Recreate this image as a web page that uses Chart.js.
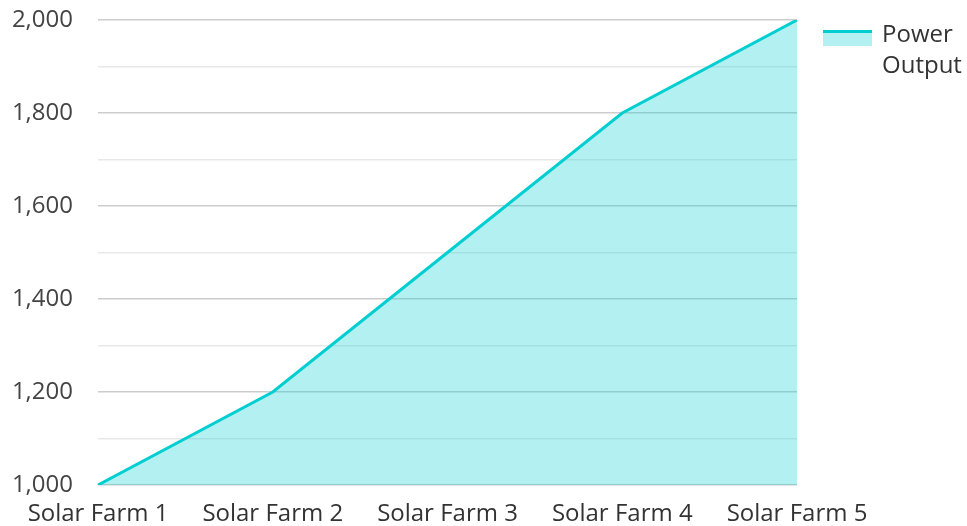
<!DOCTYPE html>
<html>
<head>
<meta charset="utf-8">
<script src="https://cdn.jsdelivr.net/npm/chart.js@4.4.0/dist/chart.umd.min.js"></script>
<style>
    html, body { margin: 0; padding: 0; background: #fff; }
    .chart-container { position: relative; width: 967px; height: 526px; }
</style>
</head>
<body>
<div class="chart-container">
    <canvas id="powerChart"></canvas>
</div>
<script>
const farms = ['Solar Farm 1', 'Solar Farm 2', 'Solar Farm 3', 'Solar Farm 4', 'Solar Farm 5'];
const powerOutput = [1000, 1200, 1500, 1800, 2000];
const yMin = 1000;
const yMax = 2000;
const yStep = 100;
const seriesName = 'Power Output';

document.addEventListener('DOMContentLoaded', (event) => {
    const ctx = document.getElementById('powerChart').getContext('2d');
    const lineColor = '#00CED1';
    const fillColor = 'rgba(0, 206, 209, 0.3)';

    const powerChart = new Chart(ctx, {
        type: 'line',
        data: {
            labels: farms,
            datasets: [{
                label: seriesName,
                data: powerOutput,
                borderColor: lineColor,
                backgroundColor: fillColor,
                borderWidth: 3,
                fill: 'origin',
                tension: 0,
                pointRadius: 0,
                pointHoverRadius: 0
            }]
        },
        options: {
            responsive: true,
            maintainAspectRatio: false,
            animation: false,
            layout: {
                padding: { top: 20, right: 170, bottom: 0, left: 0 }
            },
            scales: {
                y: {
                    min: yMin,
                    max: yMax,
                    border: { display: false },
                    afterFit: function(scale) {
                        scale.width = 98;
                        scale.paddingTop = 0;
                        scale.paddingBottom = 0;
                    },
                    ticks: {
                        stepSize: yStep,
                        padding: 25,
                        color: '#444',
                        font: { family: 'Open Sans', size: 24 },
                        callback: function(value) {
                            return value % 200 === 0 ? value.toLocaleString('en-US') : '';
                        }
                    },
                    grid: {
                        drawTicks: false,
                        lineWidth: 1.5,
                        color: function(c) {
                            return c.tick && c.tick.value % 200 === 0 ? 'rgba(0,0,0,0.2)' : 'rgba(0,0,0,0.09)';
                        }
                    }
                },
                x: {
                    offset: false,
                    border: { display: false },
                    afterFit: function(scale) {
                        scale.height = 41;
                        scale.paddingLeft = 0;
                        scale.paddingRight = 0;
                    },
                    ticks: {
                        padding: 15,
                        color: '#333',
                        maxRotation: 0,
                        autoSkip: false,
                        font: { family: 'Open Sans', size: 24 }
                    },
                    grid: { display: false, drawTicks: false }
                }
            },
            plugins: {
                legend: { display: false },
                tooltip: { enabled: false }
            }
        }
    });

    // Legend on the right, built from the dataset
    const ds = powerChart.data.datasets[0];
    const legend = document.createElement('div');
    legend.style.position = 'absolute';
    legend.style.left = '823px';
    legend.style.top = '17px';
    legend.style.display = 'flex';
    legend.style.alignItems = 'flex-start';
    legend.style.fontFamily = 'Open Sans';
    legend.style.fontSize = '24px';
    legend.style.lineHeight = '31px';
    legend.style.color = '#333';

    const swatch = document.createElement('div');
    swatch.style.width = '49px';
    swatch.style.height = '13px';
    swatch.style.marginTop = '13px';
    swatch.style.background = ds.backgroundColor;
    swatch.style.borderTop = '3px solid ' + ds.borderColor;
    legend.appendChild(swatch);

    const text = document.createElement('div');
    text.style.marginLeft = '10px';
    text.innerHTML = ds.label.split(' ').join('<br>');
    legend.appendChild(text);

    document.querySelector('.chart-container').appendChild(legend);
});
</script>
</body>
</html>
